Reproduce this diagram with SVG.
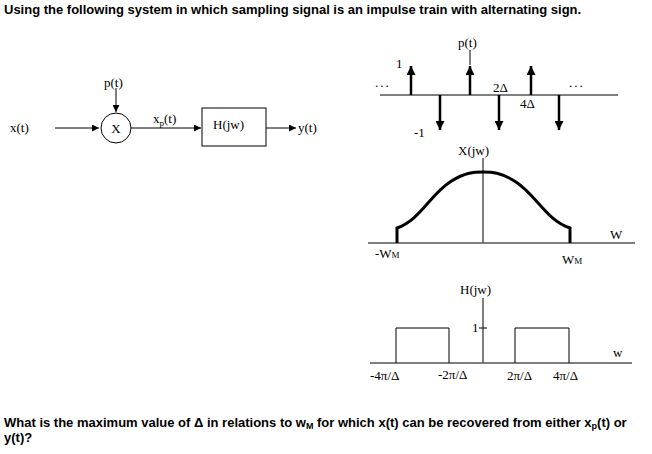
<svg xmlns="http://www.w3.org/2000/svg" width="652" height="454" viewBox="0 0 652 454">
<defs>
<marker id="ah" viewBox="0 0 10 10" refX="10" refY="5" markerWidth="7" markerHeight="7" orient="auto" markerUnits="userSpaceOnUse"><path d="M0,0L10,5L0,10z" fill="#000"/></marker>
<marker id="ih" viewBox="0 0 10 10" refX="10" refY="5" markerWidth="10" markerHeight="9" orient="auto" markerUnits="userSpaceOnUse"><path d="M0,0L10,5L0,10z" fill="#000"/></marker>
</defs>
<style>
.t{font-family:"Liberation Serif",serif;font-size:13px;fill:#000}
.b{font-family:"Liberation Sans",sans-serif;font-size:13px;font-weight:bold;fill:#000}
.l{stroke:#000;stroke-width:1;fill:none}
.ax{stroke:#555;stroke-width:1.5;fill:none}
.imp{stroke:#000;stroke-width:2.5;marker-end:url(#ih)}
</style>
<rect width="652" height="454" fill="#fff"/>
<text class="b" x="4" y="14">Using the following system in which sampling signal is an impulse train with alternating sign.</text>
<g id="connectors">
<line class="l" x1="55" y1="128" x2="99" y2="128" marker-end="url(#ah)"/>
<line class="l" x1="116" y1="88" x2="116" y2="112" marker-end="url(#ah)"/>
<line class="l" x1="131" y1="128" x2="201" y2="128" marker-end="url(#ah)"/>
<line class="l" x1="266" y1="128" x2="296" y2="128" marker-end="url(#ah)"/>
</g>
<g id="xin"><text class="t" x="10" y="132">x(t)</text></g>
<g id="pin"><text class="t" x="104" y="87">p(t)</text></g>
<g id="mult"><circle class="l" cx="116" cy="128" r="15"/><text class="t" x="116" y="133" text-anchor="middle" font-size="14">X</text></g>
<g id="xp"><text class="t" x="153" y="123">x<tspan font-size="9" dy="3">p</tspan><tspan dy="-3">(t)</tspan></text></g>
<g id="H"><rect class="l" x="202" y="108" width="64" height="38"/><text class="t" x="213" y="129">H(jw)</text></g>
<g id="yout"><text class="t" x="298" y="132">y(t)</text></g>
<g id="pt">
<line class="ax" x1="380" y1="95" x2="618" y2="95"/>
<line class="l" x1="470" y1="50" x2="470" y2="65"/>
<text class="t" x="458" y="47">p(t)</text>
<line class="imp" x1="411" y1="95" x2="411" y2="66"/>
<line class="imp" x1="440" y1="95" x2="440" y2="130"/>
<line class="imp" x1="470" y1="95" x2="470" y2="66"/>
<line class="imp" x1="499" y1="95" x2="499" y2="130"/>
<line class="imp" x1="531" y1="95" x2="531" y2="66"/>
<line class="imp" x1="559" y1="95" x2="559" y2="130"/>
<text class="t" x="396" y="68">1</text>
<text class="t" x="414" y="137">-1</text>
<text class="t" x="493" y="92">2Δ</text>
<text class="t" x="520" y="108">4Δ</text>
<text class="t" x="375" y="87" letter-spacing="2">...</text>
<text class="t" x="569" y="87" letter-spacing="2">...</text>
</g>
<g id="Xjw">
<text class="t" x="458" y="155">X(jw)</text>
<line class="l" x1="483" y1="158" x2="483" y2="243"/>
<line class="ax" x1="368" y1="243" x2="635" y2="243"/>
<path d="M397,243 L397,228 C420,220 430,195 450,182 C465,172 475,172 483,172 C491,172 501,172 516,182 C536,195 546,220 570,228 L570,243" fill="none" stroke="#000" stroke-width="3"/>
<text class="t" x="375" y="258" font-size="11">-W<tspan font-size="9">M</tspan></text>
<text class="t" x="562" y="264" font-size="11">W<tspan font-size="9">M</tspan></text>
<text class="t" x="610" y="239" font-size="11">W</text>
</g>
<g id="Hjw">
<text class="t" x="460" y="294">H(jw)</text>
<line class="l" x1="483" y1="298" x2="483" y2="363"/>
<line class="l" x1="479" y1="328" x2="487" y2="328"/>
<text class="t" x="472" y="332">1</text>
<line class="ax" x1="370" y1="363" x2="632" y2="363"/>
<path class="l" d="M396,363V328H449V363M515,363V328H569V363"/>
<text class="t" x="613" y="357" font-size="11">w</text>
<text class="t" x="370" y="380">-4π/Δ</text>
<text class="t" x="438" y="379">-2π/Δ</text>
<text class="t" x="507" y="380">2π/Δ</text>
<text class="t" x="553" y="380">4π/Δ</text>
</g>
<text class="b" x="4" y="427">What is the maximum value of Δ in relations to w<tspan font-size="9" dy="2">M</tspan><tspan dy="-2"> for which x(t) can be recovered from either x</tspan><tspan font-size="9" dy="2">p</tspan><tspan dy="-2">(t) or</tspan></text>
<text class="b" x="4" y="442">y(t)?</text>
</svg>
